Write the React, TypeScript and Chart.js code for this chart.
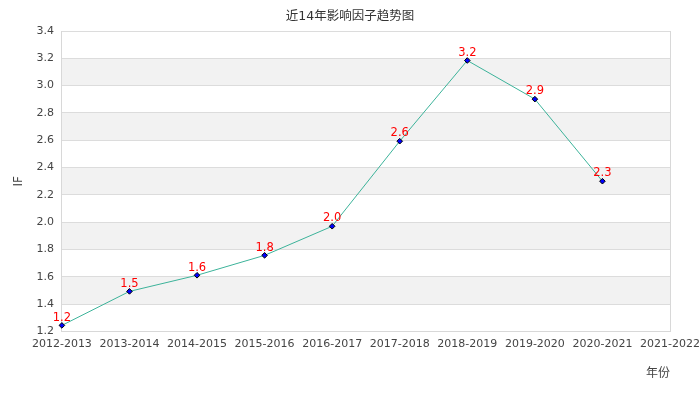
import React, { useEffect, useRef } from "react";
import { Chart, registerables } from "chart.js";

Chart.register(...registerables);

const categories = ["2012-2013", "2013-2014", "2014-2015", "2015-2016", "2016-2017", "2017-2018", "2018-2019", "2019-2020", "2020-2021", "2021-2022"];
const ifValues: (number | null)[] = [1.244, 1.493, 1.611, 1.757, 1.97, 2.593, 3.184, 2.901, 2.3, null];
const chartTitle = "近14年影响因子趋势图";
const yTitle = "IF";
const xTitle = "年份";

const bandPlugin = {
  id: "bands",
  beforeDraw(chart: any) {
    const { ctx, chartArea, scales } = chart;
    const y = scales.y;
    ctx.save();
    ctx.fillStyle = "#f2f2f2";
    const ticks = y.ticks;
    for (let i = 0; i < ticks.length - 1; i++) {
      if (i % 2 === 1) {
        const y1 = y.getPixelForValue(ticks[i].value);
        const y2 = y.getPixelForValue(ticks[i + 1].value);
        ctx.fillRect(chartArea.left, Math.min(y1, y2), chartArea.right - chartArea.left, Math.abs(y2 - y1));
      }
    }
    ctx.restore();
  },
};

const labelPlugin = {
  id: "valueLabels",
  afterDatasetsDraw(chart: any) {
    const { ctx } = chart;
    const meta = chart.getDatasetMeta(0);
    ctx.save();
    ctx.font = "11.5px 'DejaVu Sans', sans-serif";
    ctx.fillStyle = "#ff0000";
    ctx.textAlign = "center";
    ctx.textBaseline = "bottom";
    meta.data.forEach((pt: any, i: number) => {
      const v = ifValues[i];
      if (v == null) return;
      ctx.fillText(v.toFixed(1), pt.x, pt.y - 2);
    });
    ctx.restore();
  },
};

export default function App() {
  const ref = useRef<HTMLCanvasElement>(null);
  useEffect(() => {
    document.body.style.margin = "0";
    const chart = new Chart(ref.current!, {
      type: "line",
      data: {
        labels: categories,
        datasets: [
          {
            data: ifValues,
            borderColor: "#3cb39a",
            borderWidth: 1,
            pointStyle: "rectRot",
            pointRadius: 2.8,
            pointBackgroundColor: "#0000ff",
            pointBorderColor: "#000000",
            pointBorderWidth: 1,
            spanGaps: false,
            tension: 0,
          },
        ],
      },
      options: {
        animation: false,
        responsive: false,
        maintainAspectRatio: false,
        layout: { padding: { left: 12, right: 12, top: 0, bottom: 15 } },
        plugins: {
          legend: { display: false },
          tooltip: { enabled: false },
          title: {
            display: true,
            text: chartTitle,
            color: "#333",
            font: { family: "'DejaVu Sans', 'Noto Sans CJK SC', sans-serif", size: 12.5, weight: "normal" },
            padding: { top: 9, bottom: 7 },
          },
        },
        scales: {
          x: {
            offset: false,
            grid: { display: false, drawTicks: false },
            border: { display: true, color: "#d8d8d8" },
            afterFit: (scale: any) => {
              scale.paddingRight = 30;
            },
            ticks: {
              color: "#444",
              font: { family: "'DejaVu Sans', sans-serif", size: 11 },
              maxRotation: 0,
              autoSkip: false,
              padding: 6,
            },
            title: {
              display: true,
              text: xTitle,
              align: "end",
              color: "#444",
              font: { family: "'DejaVu Sans', 'Noto Sans CJK SC', sans-serif", size: 12 },
              padding: { top: 10 },
            },
          },
          y: {
            min: 1.2,
            max: 3.4,
            grid: { color: "#dcdcdc", drawTicks: false },
            border: { display: true, color: "#d8d8d8" },
            ticks: {
              stepSize: 0.2,
              color: "#444",
              font: { family: "'DejaVu Sans', sans-serif", size: 11 },
              padding: 8,
              callback: (v: any) => Number(v).toFixed(1),
            },
            title: {
              display: true,
              text: yTitle,
              color: "#444",
              font: { family: "'DejaVu Sans', sans-serif", size: 12 },
              padding: { top: 0, bottom: 2 },
            },
          },
          y2: {
            position: "right",
            min: 1.2,
            max: 3.4,
            grid: { display: false },
            border: { display: true, color: "#d8d8d8" },
            ticks: { display: false },
          },
        },
      },
      plugins: [bandPlugin, labelPlugin],
    });
    return () => chart.destroy();
  }, []);
  return <canvas ref={ref} width={700} height={400} style={{ display: "block" }} />;
}
